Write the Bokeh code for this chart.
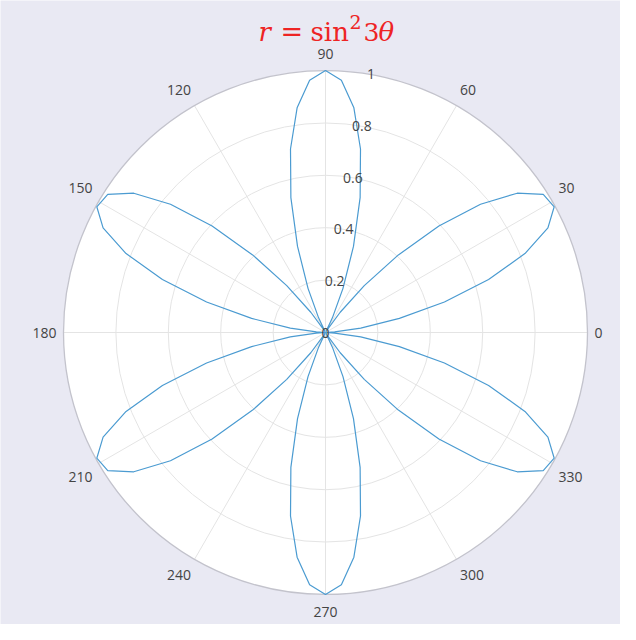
import numpy as np
from bokeh.plotting import figure
from bokeh.models import Range1d, Label
from bokeh.core.properties import value
from bokeh.embed import file_html
from bokeh.resources import INLINE

# ---- data: sampled curve r = sin^2(3 theta), theta in degrees ----
theta_deg = [
    0, 3.6, 7.2, 10.8, 14.4, 18, 21.6, 25.2, 28.8, 32.4,
    36, 39.6, 43.2, 46.8, 50.4, 54, 57.6, 61.2, 64.8, 68.4,
    72, 75.6, 79.2, 82.8, 86.4, 90, 93.6, 97.2, 100.8, 104.4,
    108, 111.6, 115.2, 118.8, 122.4, 126, 129.6, 133.2, 136.8, 140.4,
    144, 147.6, 151.2, 154.8, 158.4, 162, 165.6, 169.2, 172.8, 176.4,
    180, 183.6, 187.2, 190.8, 194.4, 198, 201.6, 205.2, 208.8, 212.4,
    216, 219.6, 223.2, 226.8, 230.4, 234, 237.6, 241.2, 244.8, 248.4,
    252, 255.6, 259.2, 262.8, 266.4, 270, 273.6, 277.2, 280.8, 284.4,
    288, 291.6, 295.2, 298.8, 302.4, 306, 309.6, 313.2, 316.8, 320.4,
    324, 327.6, 331.2, 334.8, 338.4, 342, 345.6, 349.2, 352.8, 356.4,
    360,
]
r_values = [
    0, 0.0351, 0.1355, 0.2871, 0.4686, 0.6545, 0.8187, 0.9382, 0.9961, 0.9843,
    0.9045, 0.7679, 0.5937, 0.4063, 0.2321, 0.0955, 0.0157, 0.0039, 0.0618, 0.1813,
    0.3455, 0.5314, 0.7129, 0.8645, 0.9649, 1.0, 0.9649, 0.8645, 0.7129, 0.5314,
    0.3455, 0.1813, 0.0618, 0.0039, 0.0157, 0.0955, 0.2321, 0.4063, 0.5937, 0.7679,
    0.9045, 0.9843, 0.9961, 0.9382, 0.8187, 0.6545, 0.4686, 0.2871, 0.1355, 0.0351,
    0, 0.0351, 0.1355, 0.2871, 0.4686, 0.6545, 0.8187, 0.9382, 0.9961, 0.9843,
    0.9045, 0.7679, 0.5937, 0.4063, 0.2321, 0.0955, 0.0157, 0.0039, 0.0618, 0.1813,
    0.3455, 0.5314, 0.7129, 0.8645, 0.9649, 1.0, 0.9649, 0.8645, 0.7129, 0.5314,
    0.3455, 0.1813, 0.0618, 0.0039, 0.0157, 0.0955, 0.2321, 0.4063, 0.5937, 0.7679,
    0.9045, 0.9843, 0.9961, 0.9382, 0.8187, 0.6545, 0.4686, 0.2871, 0.1355, 0.0351,
    0,
]
angular_ticks = [0, 30, 60, 90, 120, 150, 180, 210, 240, 270, 300, 330]
angular_labels = ["0", "30", "60", "90", "120", "150", "180", "210", "240", "270", "300", "330"]
radial_ticks = [0, 0.2, 0.4, 0.6, 0.8, 1.0]
radial_labels = ["0", "0.2", "0.4", "0.6", "0.8", "1"]
radial_max = 1.0

# ---- layout ----
W, H = 620, 624
PX = 262.0             # pixels per radial unit
CX, CY = 325.0, 332.0  # centre of the polar area in figure pixels (from top-left)
BG = "#e9e9f3"
TICK_COLOR = "#444444"
FONT = value("Open Sans")

p = figure(width=W, height=H, output_backend="svg", toolbar_location=None,
           x_range=Range1d(-CX / PX, (W - CX) / PX),
           y_range=Range1d(-(H - CY) / PX, CY / PX),
           min_border=0, background_fill_color=BG, border_fill_color=BG,
           outline_line_color=None)
p.axis.visible = False
p.grid.visible = False

# polar background disc
p.circle(x=[0], y=[0], radius=radial_max, fill_color="white", line_color=None)

# radial grid circles
inner = [t for t in radial_ticks if 0 < t < radial_max]
p.circle(x=[0] * len(inner), y=[0] * len(inner), radius=inner,
         fill_color=None, line_color="#e4e4e4", line_width=1)

# angular grid spokes
ang = np.deg2rad(np.array(angular_ticks, dtype=float))
p.segment(x0=[0] * len(ang), y0=[0] * len(ang),
          x1=list(radial_max * np.cos(ang)), y1=list(radial_max * np.sin(ang)),
          line_color="#e4e4e4", line_width=1)

# outer boundary
p.circle(x=[0], y=[0], radius=radial_max, fill_color=None,
         line_color="#c3c3cc", line_width=1.3)

# the curve
th = np.deg2rad(np.array(theta_deg, dtype=float))
rr = np.array(r_values, dtype=float)
p.line(x=list(rr * np.cos(th)), y=list(rr * np.sin(th)),
       line_color="#4b9bd1", line_width=1.2)

# angular tick labels: anchored just outside the circle, aligned by side
pad = 7.0
voff = 10.0
for a, lab in zip(angular_ticks, angular_labels):
    c, s = np.cos(np.deg2rad(a)), np.sin(np.deg2rad(a))
    align = "left" if c > 0.01 else ("right" if c < -0.01 else "center")
    rad = (PX * radial_max + pad) / PX
    dy = (voff / PX) * (1 if s > 0.01 else (-1 if s < -0.01 else 0))
    p.text(x=[rad * c], y=[rad * s + dy], text=[lab], text_font=FONT,
           text_font_size="14px", text_color=TICK_COLOR,
           text_align=align, text_baseline="middle")

# radial tick labels along 80 degrees
ra = np.deg2rad(80.0)
rt = np.array(radial_ticks, dtype=float)
p.text(x=list(rt * np.cos(ra)), y=list(rt * np.sin(ra)), text=radial_labels,
       text_font=FONT, text_font_size="14px", text_color=TICK_COLOR,
       text_align="center", text_baseline="middle")

# title  r = sin^2 3θ  (built from pieces, positions in page pixels)
TITLE_COLOR = "#ee2424"
def page_to_data(px, py):
    return (px - 8 - CX) / PX, (CY - (py - 8)) / PX

pieces = [
    ("r", 266, 39, "26px", "italic"),
    ("=", 288, 39, "27px", "normal"),
    ("sin", 318, 39, "26px", "normal"),
    ("2", 357, 29, "19px", "normal"),
    ("3", 371, 39, "25px", "normal"),
    ("θ", 386, 39, "26px", "italic"),
]
for txt, px, py, size, style in pieces:
    x, y = page_to_data(px, py)
    p.add_layout(Label(x=x, y=y, text=txt, text_font="DejaVu Serif",
                       text_font_size=size, text_font_style=style,
                       text_color=TITLE_COLOR, text_align="left",
                       text_baseline="alphabetic"))

open("out.html", "w").write(file_html(p, INLINE))
